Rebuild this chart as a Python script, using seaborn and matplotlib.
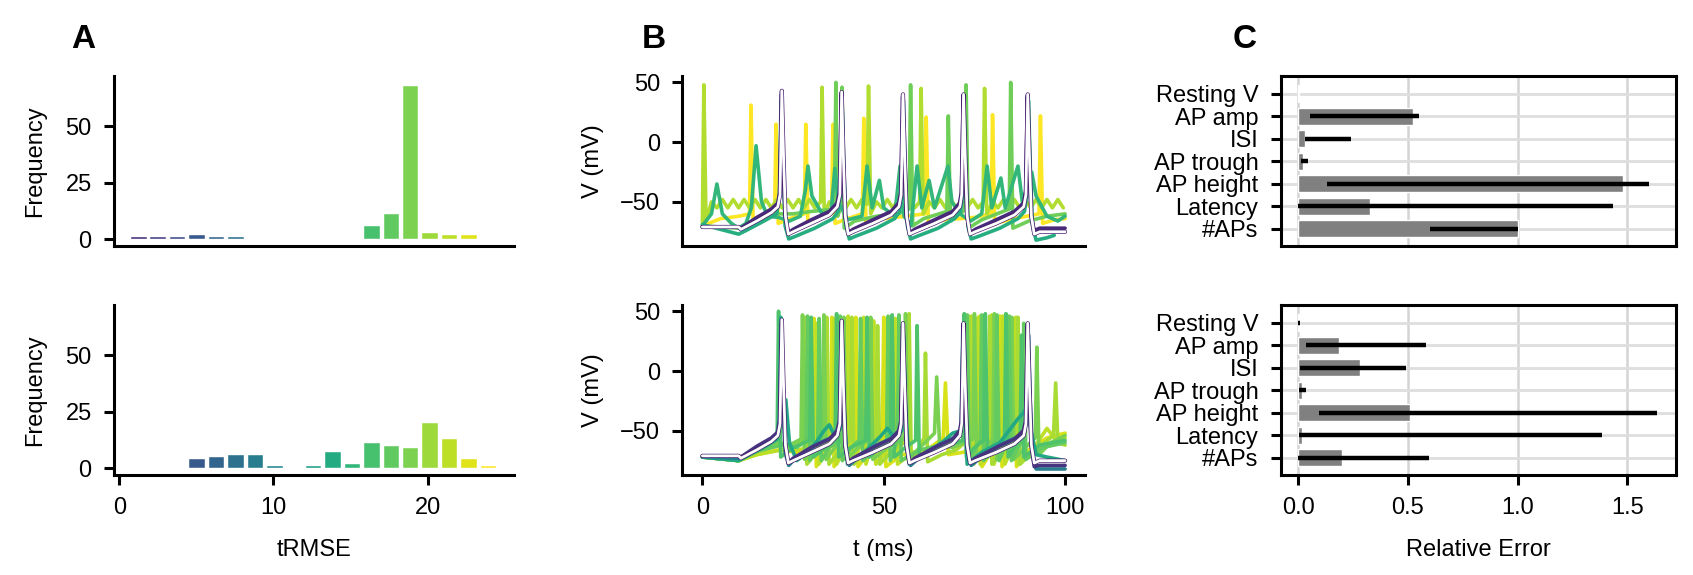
#!/usr/bin/env python3
"""
Figura: histogramas de tRMSE, tracos de voltagem e erro relativo por feature
"""

import matplotlib
matplotlib.use('Agg')
import numpy as np
import matplotlib.pyplot as plt
import seaborn as sns

# ---------------- A: histogramas de tRMSE ----------------
BIN_CENTERS = [1.26, 2.52, 3.78, 5.04, 6.30, 7.56, 8.82, 10.08, 11.34, 12.60,
               13.86, 15.12, 16.38, 17.64, 18.90, 20.16, 21.42, 22.68, 23.94]
COUNTS_TOP = [1, 1, 1, 2, 1, 1, 0, 0, 0, 0, 0, 0, 6, 11, 68, 3, 2, 2, 0]
COUNTS_BOTTOM = [0, 0, 0, 4, 5, 6, 6, 1, 0, 1, 7, 2, 11, 10, 9, 20, 13, 4, 1]

# ---------------- B: tracos (t em ms, V em mV) ----------------
TARGET = [(0, -71), (10, -71), (10.6, -73), (15, -66), (19, -59), (20.8, -54), (21.4, -44), (21.9, 43),
          (22.4, -15), (22.9, -62), (23.7, -77), (25, -75), (30, -68), (35, -61), (37.2, -54), (37.9, -44),
          (38.4, 42), (38.9, -15), (39.4, -62), (40.2, -77), (41.5, -75), (47, -68), (52, -61), (54.2, -54),
          (54.8, -44), (55.3, 40), (55.8, -15), (56.3, -62), (57.1, -77), (58.5, -75), (64, -68), (69, -61),
          (71, -54), (71.5, -44), (72, 40), (72.5, -15), (73, -62), (73.8, -77), (75.2, -75), (81, -68),
          (86, -61), (88.6, -54), (89.2, -44), (89.7, 40), (90.2, -15), (90.7, -62), (91.5, -77), (93, -75),
          (100, -75)]

# painel de cima
TOP_PURPLE = [(0, -71), (10, -71), (10.6, -72), (15, -63), (19, -56), (20.8, -51), (21.3, -42), (21.8, 40),
              (22.3, -15), (22.8, -62), (23.7, -76), (25, -73), (30, -65), (35, -58), (37.1, -51), (37.8, -42),
              (38.3, 40), (38.8, -15), (39.3, -62), (40.2, -76), (41.5, -73), (47, -65), (52, -58), (54.1, -51),
              (54.7, -42), (55.2, 38), (55.7, -15), (56.2, -62), (57.1, -76), (58.5, -73), (64, -65), (69, -58),
              (70.9, -51), (71.4, -42), (71.9, 38), (72.4, -15), (72.9, -62), (73.8, -76), (75.2, -73), (81, -65),
              (86, -58), (88.5, -51), (89.1, -42), (89.6, 38), (90.1, -15), (90.6, -62), (91.5, -74), (93, -72),
              (100, -72)]
TOP_GREEN_LOW = [(0, -69), (10, -77), (12, -74), (17, -66), (20.5, -60), (21.2, -45), (21.7, 35), (22.2, -20),
                 (22.8, -70), (23.8, -81), (25.5, -79), (31, -72), (36, -64), (37.4, -58), (38, -45), (38.5, 35),
                 (39, -20), (39.6, -70), (40.5, -81), (42, -79), (48, -72), (53, -64), (54.4, -58), (55, -45),
                 (55.4, 35), (55.9, -20), (56.5, -70), (57.4, -81), (59, -79), (65, -72), (69.5, -64), (71.2, -58),
                 (71.7, -45), (72.1, 35), (72.6, -20), (73.2, -70), (74.1, -81), (76, -79), (82, -72), (87, -64),
                 (88.8, -58), (89.4, -45), (89.9, 35), (90.4, -20), (91, -70), (92, -82), (95, -80), (97, -78)]
TOP_TEAL = [(0, -70), (2.5, -60), (4, -35), (5.5, -60), (8, -68), (10, -72), (12, -68), (13.5, -55), (14.8, -3),
            (16.3, -50), (18, -62), (21, -63), (24, -66), (27, -62), (28.4, -40), (29.1, -20), (30.2, -45),
            (33, -60), (35.5, -58), (36.5, -22), (37.5, -50), (40, -65), (44, -62), (45.4, -20), (46.8, -55),
            (48.8, -32), (50, -55), (53, -62), (54.5, -20), (55.6, -62), (57.5, -70), (59.2, -20), (60.5, -55),
            (62.5, -32), (64, -55), (67.7, -20), (68.8, -50), (71, -60), (74, -66), (77, -60), (78.5, -20),
            (79.8, -55), (82.3, -30), (83.5, -55), (87, -20), (88.2, -50), (90.8, -25), (92, -45), (95, -62),
            (98, -66), (100, -62)]
TOP_GREEN = [(0, -70), (10, -72), (15, -64), (20, -60), (25, -60), (30, -58), (36.4, -56), (36.8, 50), (37.3, -62),
             (38.1, -55), (38.5, 46), (39.1, -72), (42, -66), (48, -62), (54, -60), (57, -56), (57.4, 48),
             (58, -70), (61, -64), (67.4, -58), (67.8, 22), (68.4, -66), (72.3, -57), (72.7, 48), (73.3, -72),
             (77, -65), (84.6, -56), (85, 50), (85.6, -72), (90, -66), (95, -62), (100, -60)]
TOP_LIME = [(0, -68), (0.4, 48), (1.0, -66), (2.5, -50), (4, -55), (5.5, -48), (7, -55), (8.5, -48), (10, -55),
            (11.5, -48), (13, -55), (14.5, -48), (16, -55), (17.5, -48), (19, -55), (20.5, -48), (22, -55),
            (23.5, -48), (25, -55), (26.5, -48), (28, -55), (29.5, -48), (31, -55), (32.6, -50), (33, 46),
            (33.6, -60), (35, -50), (36.5, -55), (38, -48), (39.5, -55), (41, -48), (42.5, -55), (44, -48),
            (45.4, -52), (45.8, 47), (46.4, -60), (48, -50), (49.5, -55), (51, -48), (52.5, -55), (54, -48),
            (55.5, -55), (57, -48), (58.5, -55), (59.9, -50), (60.3, 45), (60.9, -60), (62.5, -50), (64, -55),
            (65.5, -48), (67, -55), (68.5, -48), (70, -55), (71.5, -48), (73, -55), (74.5, -48), (76, -55),
            (77.4, -50), (77.8, 45), (78.4, -60), (80, -50), (81.5, -55), (83, -48), (84.5, -55), (86, -48),
            (87.5, -55), (89, -48), (90.5, -55), (92, -48), (93.5, -55), (95, -48), (96.5, -55), (98, -48),
            (99.5, -55)]
TOP_YELLOW = [(0, -70), (5, -64), (10, -62), (13, -60), (13.4, 31), (14, -68), (17, -63), (19.9, -60), (20.3, 15),
              (20.9, -68), (24, -64), (28.1, -60), (28.5, 15), (29.1, -68), (32, -64), (35.6, -60), (36, 15),
              (36.6, -68), (40, -64), (44.1, -60), (44.5, 20), (45.1, -68), (50, -64), (56, -62), (61.3, -60),
              (61.7, 21), (62.3, -68), (67, -65), (75, -63), (79.6, -60), (80, 23), (80.6, -68), (86, -64),
              (92.8, -60), (93.2, 22), (93.8, -68), (97, -65), (100, -64)]

# painel de baixo
BOT_NAVY = [(0, -71), (10, -71), (10.6, -72), (15, -63), (19, -56), (20.8, -51), (21.3, -42), (21.8, 40),
            (22.3, -15), (22.8, -62), (23.7, -77), (25, -73), (30, -64), (35, -57), (37.1, -50), (37.8, -42),
            (38.3, 40), (38.8, -15), (39.3, -62), (40.2, -77), (41.5, -73), (47, -64), (52, -57), (54.1, -50),
            (54.7, -42), (55.2, 38), (55.7, -15), (56.2, -62), (57.1, -77), (58.5, -73), (64, -64), (69, -57),
            (70.9, -50), (71.4, -42), (71.9, 38), (72.4, -15), (72.9, -62), (73.8, -77), (75.2, -73), (81, -64),
            (86, -57), (88.5, -50), (89.1, -42), (89.6, 38), (90.1, -15), (90.6, -62), (91.5, -80), (93, -79),
            (100, -79)]
BOT_TEAL = [(0, -72), (10, -73), (12, -70), (17, -62), (20.5, -55), (21.2, -40), (21.7, 30), (22.2, -25),
            (22.8, -68), (23.8, -79), (26, -72), (31, -62), (36, -55), (37.3, -50), (38, -40), (38.5, 30),
            (39, -25), (39.6, -68), (40.5, -79), (43, -72), (48, -62), (53, -55), (54.4, -50), (55, -40),
            (55.4, 30), (55.9, -25), (56.5, -68), (57.4, -79), (60, -72), (65, -62), (70, -55), (71.2, -50),
            (71.7, -40), (72.1, 30), (72.6, -25), (73.2, -68), (74.1, -79), (77, -72), (82, -62), (87, -55),
            (88.8, -50), (89.4, -40), (89.9, 30), (90.4, -25), (91, -68), (92, -82), (95, -82), (100, -82)]
BOT_GREEN_LOW = [(0, -72), (10, -75), (13, -70), (18, -62), (20.5, -57), (21.2, -45), (21.6, 45), (22.1, -40),
                 (23, -24), (24, -60), (26, -75), (30, -66), (33.5, -50), (35, -45), (36.5, -55), (38, -48),
                 (38.5, 35), (39, -30), (40, -78), (44, -70), (49, -55), (51, -48), (53, -56), (55, -50),
                 (55.4, 30), (56, -30), (57, -78), (61, -70), (66, -60), (69, -52), (71.3, -50), (71.8, 35),
                 (72.3, -30), (73, -78), (77, -68), (82, -60), (87, -40), (88.5, -35), (89.5, -30), (90.5, -48),
                 (92, -70), (95, -72), (100, -75)]
BOT_BURST_1 = [(0, -72), (10, -75), (15, -66), (20.6, -58), (21.0, 50), (21.6, -72), (25, -64), (29.6, -58),
               (30.0, 45), (30.6, -72), (34, -64), (36.6, -58), (37.0, 48), (37.6, -72), (41, -64), (45.0, -58),
               (45.4, 45), (46, -72), (49, -64), (51.9, -58), (52.3, 47), (52.9, -72), (56, -64), (58.8, -58),
               (59.2, 38), (59.8, -72), (64, -66), (68, -62), (71.8, -58), (72.2, 48), (72.8, -72), (75, -64),
               (77.6, -58), (78, 48), (78.6, -72), (81, -64), (83.3, -58), (83.7, 48), (84.3, -72), (86, -64),
               (87.6, -58), (88, 30), (88.6, -72), (93, -62), (100, -58)]
BOT_BURST_2 = [(0, -72), (10, -75), (15, -67), (21, -60), (24, -62), (27.2, -57), (27.6, 47), (28.2, -74),
               (31, -64), (33.1, -57), (33.5, 47), (34.1, -74), (36.5, -64), (38.6, -57), (39.0, 45), (39.6, -74),
               (43, -64), (46.0, -57), (46.4, 45), (47, -74), (51, -64), (55.6, -57), (56.0, 48), (56.6, -74),
               (60, -64), (64.0, -52), (64.6, -5), (65.4, -62), (69, -64), (74.6, -57), (75, 48), (75.6, -74),
               (78, -64), (80.1, -57), (80.5, 48), (81.1, -74), (83, -64), (84.9, -57), (85.3, 45), (85.9, -74),
               (89, -64), (91.8, -56), (92.2, 20), (92.8, -70), (96, -60), (100, -54)]
BOT_BURST_3 = [(0, -72), (10, -75), (15, -68), (21, -62), (25, -64), (27.8, -58), (28.2, 45), (28.8, -78),
               (32, -66), (33.9, -58), (34.3, 45), (34.9, -78), (38, -66), (40.8, -58), (41.2, 45), (41.8, -78),
               (45, -66), (47.9, -58), (48.3, 38), (48.9, -78), (52, -68), (56.6, -58), (57, 48), (57.6, -78),
               (59.5, -66), (61.1, -56), (61.5, 15), (62.1, -76), (66, -70), (70, -66), (73.1, -58), (73.5, 46),
               (74.1, -78), (76.5, -66), (78.8, -58), (79.2, 46), (79.8, -78), (83, -66), (86.6, -58), (87, 45),
               (87.6, -78), (91, -68), (96.8, -54), (97.4, -10), (98, -60), (100, -62)]
BOT_BURST_4 = [(0, -72), (10, -75), (15, -70), (21, -66), (26, -68), (30.4, -60), (30.8, 44), (31.4, -80),
               (33.5, -68), (35.3, -60), (35.7, 45), (36.3, -80), (39, -68), (41.9, -60), (42.3, 45), (42.9, -80),
               (46, -68), (49.6, -60), (50, 45), (50.6, -80), (55, -70), (62, -66), (66.4, -56), (67, -10),
               (67.8, -70), (72, -68), (76.1, -60), (76.5, 46), (77.1, -80), (79.5, -68), (81.6, -60), (82, 46),
               (82.6, -80), (84, -68), (85.6, -60), (86, 44), (86.6, -80), (90, -66), (95, -56), (100, -52)]
BOT_BURST_5 = [(0, -72), (10, -75), (15, -67), (22, -62), (26, -64), (28.6, -58), (29.0, 46), (29.6, -75),
               (31.8, -60), (32.2, 44), (32.8, -75), (35, -64), (37.6, -58), (38.0, 46), (38.6, -75), (41, -64),
               (43.2, -58), (43.6, 44), (44.2, -75), (48, -64), (50.8, -58), (51.2, 46), (51.8, -75), (53.8, -58),
               (54.2, 47), (54.8, -75), (60, -66), (66, -62), (72.6, -58), (73.0, 47), (73.6, -75), (76.6, -58),
               (77.0, 47), (77.6, -75), (80.8, -58), (81.2, 47), (81.8, -75), (84.2, -58), (84.6, 46), (85.2, -75),
               (88.2, -58), (88.6, 40), (89.2, -74), (94, -64), (100, -60)]
BOT_BURST_6 = [(0, -72), (10, -75), (15, -70), (22, -66), (27, -66), (31.1, -60), (31.5, 40), (32.1, -78),
               (36.0, -60), (36.4, 44), (37.0, -78), (39.8, -60), (40.2, 46), (40.8, -78), (44.1, -60), (44.5, 45),
               (45.1, -78), (46.8, -60), (47.2, 42), (47.8, -78), (52.8, -60), (53.2, 44), (53.8, -78), (58, -68),
               (66, -64), (73.8, -60), (74.2, 46), (74.8, -78), (75.6, -60), (76.0, 45), (76.6, -78), (79.4, -60),
               (79.8, 47), (80.4, -78), (82.4, -60), (82.8, 46), (83.4, -78), (86.0, -60), (86.4, 45), (87.0, -78),
               (91, -66), (95, -48), (97, -56), (100, -56)]

# ---------------- C: erro relativo por feature ----------------
FEATURES = ['Resting V', 'AP amp', 'ISI', 'AP trough', 'AP height', 'Latency', '#APs']
ERR_TOP = [0.004, 0.523, 0.03, 0.021, 1.479, 0.328, 1.0]
ERR_TOP_LO = [0.002, 0.056, 0.03, 0.013, 0.13, 0.0, 0.60]
ERR_TOP_HI = [0.006, 0.552, 0.24, 0.044, 1.597, 1.433, 1.0]
ERR_BOT = [0.003, 0.184, 0.282, 0.016, 0.511, 0.018, 0.198]
ERR_BOT_LO = [0.0, 0.036, 0.008, 0.005, 0.097, 0.005, 0.0]
ERR_BOT_HI = [0.008, 0.582, 0.492, 0.036, 1.634, 1.384, 0.598]

FS = 17
LW = 2.2
CMAP = sns.color_palette('viridis', as_cmap=True)


def histograma(ax, counts, show_x):
    """Histograma de tRMSE, cada barra colorida pelo valor do bin"""
    pal = {c: CMAP((c + 2.1) / 26.1) for c in BIN_CENTERS}
    sns.barplot(x=BIN_CENTERS, y=counts, hue=BIN_CENTERS, palette=pal, native_scale=True,
                width=0.8, legend=False, saturation=1, edgecolor='white', linewidth=0.3, ax=ax)
    ax.set_xlim(-0.35, 25.6)
    ax.set_ylim(-3, 72)
    ax.set_yticks([0, 25, 50])
    ax.set_ylabel('Frequency', labelpad=14)
    sns.despine(ax=ax)
    if show_x:
        ax.set_xticks([0, 10, 20])
        ax.set_xlabel('tRMSE', labelpad=14)
    else:
        ax.tick_params(bottom=False, labelbottom=False)
        ax.set_xlabel('')


def tracos(ax, traces, show_x):
    """Tracos de voltagem; o alvo em branco por cima"""
    for val, tr in traces:
        t, v = zip(*tr)
        sns.lineplot(x=list(t), y=list(v), color=CMAP(val), lw=2.6, sort=False,
                     estimator=None, ax=ax)
    t, v = zip(*TARGET)
    sns.lineplot(x=list(t), y=list(v), color=CMAP(0.08), lw=3.0, sort=False, estimator=None, ax=ax)
    sns.lineplot(x=list(t), y=list(v), color='white', lw=2.0, sort=False, estimator=None, ax=ax)
    ax.set_xlim(-5.5, 105.5)
    ax.set_ylim(-87, 55)
    ax.set_yticks([-50, 0, 50])
    ax.set_ylabel('V (mV)', labelpad=12)
    sns.despine(ax=ax)
    if show_x:
        ax.set_xticks([0, 50, 100])
        ax.set_xlabel('t (ms)', labelpad=14)
    else:
        ax.tick_params(bottom=False, labelbottom=False)
        ax.set_xlabel('')


def erros(ax, val, lo, hi, show_x):
    """Barras de erro relativo com faixa em preto (eixo y numerico)"""
    pos = np.arange(len(FEATURES))
    sns.barplot(x=val, y=pos, orient='h', native_scale=True, color='#808080', saturation=1,
                width=0.75, ax=ax, zorder=3)
    ax.hlines(y=pos, xmin=lo, xmax=hi, color='black', lw=3.2, zorder=4)
    ax.set_xlim(-0.08, 1.72)
    ax.set_ylim(6.77, -0.77)
    ax.set_yticks(pos)
    ax.set_yticklabels(FEATURES)
    ax.set_xticks([0.0, 0.5, 1.0, 1.5])
    ax.grid(True, axis='x', color='#d4d4d4', lw=1.8)
    ax.grid(True, axis='y', color='#dedede', lw=2.0)
    ax.set_ylabel('')
    for s in ax.spines.values():
        s.set_visible(True)
        s.set_linewidth(LW)
    if show_x:
        ax.set_xticklabels(['0.0', '0.5', '1.0', '1.5'])
        ax.set_xlabel('Relative Error', labelpad=14)
    else:
        ax.tick_params(bottom=False, labelbottom=False)
        ax.set_xlabel('')


def main():
    sns.set_style('ticks')
    plt.rcParams['font.family'] = ['Liberation Sans', 'DejaVu Sans']
    plt.rcParams.update({
        'font.size': FS, 'axes.labelsize': FS, 'xtick.labelsize': FS, 'ytick.labelsize': FS,
        'axes.linewidth': LW, 'xtick.major.width': LW, 'ytick.major.width': LW,
        'xtick.major.size': 7, 'ytick.major.size': 7,
        'xtick.major.pad': 9, 'ytick.major.pad': 9,
        'axes.edgecolor': 'black', 'xtick.color': 'black', 'ytick.color': 'black',
        'text.color': 'black', 'axes.labelcolor': 'black',
    })

    fig = plt.figure(figsize=(16.93, 5.75), dpi=100)
    top_y, bot_y, h = 0.572, 0.174, 0.295
    cols = [(0.0673, 0.2363), (0.4031, 0.2378), (0.7564, 0.2334)]

    ax_a1 = fig.add_axes([cols[0][0], top_y, cols[0][1], h])
    ax_a2 = fig.add_axes([cols[0][0], bot_y, cols[0][1], h])
    ax_b1 = fig.add_axes([cols[1][0], top_y, cols[1][1], h])
    ax_b2 = fig.add_axes([cols[1][0], bot_y, cols[1][1], h])
    ax_c1 = fig.add_axes([cols[2][0], top_y, cols[2][1], h])
    ax_c2 = fig.add_axes([cols[2][0], bot_y, cols[2][1], h])

    histograma(ax_a1, COUNTS_TOP, False)
    histograma(ax_a2, COUNTS_BOTTOM, True)

    top_traces = [(1.0, TOP_YELLOW), (0.88, TOP_LIME), (0.78, TOP_GREEN),
                  (0.66, TOP_TEAL), (0.62, TOP_GREEN_LOW), (0.12, TOP_PURPLE)]
    bot_traces = [(0.94, BOT_BURST_4), (0.90, BOT_BURST_6), (0.87, BOT_BURST_3), (0.80, BOT_BURST_2),
                  (0.76, BOT_BURST_5), (0.72, BOT_BURST_1), (0.60, BOT_GREEN_LOW), (0.42, BOT_TEAL),
                  (0.15, BOT_NAVY)]
    tracos(ax_b1, top_traces, False)
    tracos(ax_b2, bot_traces, True)

    erros(ax_c1, ERR_TOP, ERR_TOP_LO, ERR_TOP_HI, False)
    erros(ax_c2, ERR_BOT, ERR_BOT_LO, ERR_BOT_HI, True)

    for letra, x in [('A', 83), ('B', 654), ('C', 1245)]:
        fig.text(x / 1693, 1 - 39 / 575, letra, fontsize=24, fontweight='bold',
                 ha='center', va='center')

    fig.savefig('out.png', dpi=100)
    plt.close(fig)


if __name__ == "__main__":
    main()
